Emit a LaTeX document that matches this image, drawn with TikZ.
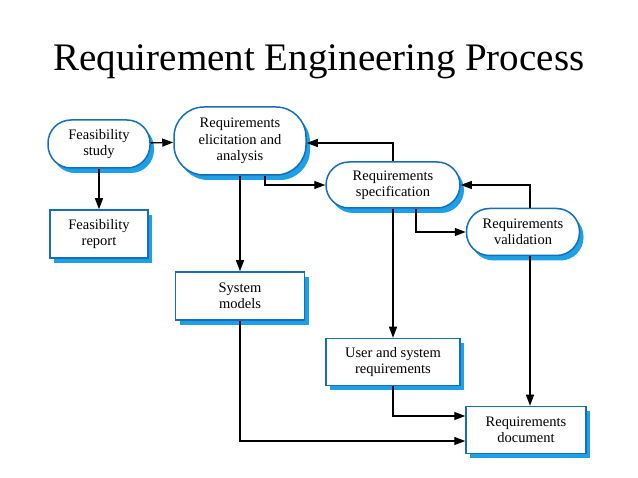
\documentclass[tikz,border=0pt]{standalone}
\usepackage{fontspec}
\setmainfont{Liberation Serif}
\usetikzlibrary{arrows.meta,shadows}
\definecolor{bord}{RGB}{20,110,190}
\definecolor{shad}{RGB}{30,160,230}
\begin{document}
\begin{tikzpicture}[x=1pt,y=-1pt,
  base/.style={draw=bord,line width=1.5pt,fill=white,align=center,font=\fontsize{14.5}{16.5}\selectfont,inner sep=0pt,
    drop shadow={fill=shad,opacity=1,shadow xshift=4pt,shadow yshift=-5pt}},
  proc/.style={base,rounded corners=23pt},
  doc/.style={base},
  ar/.style={-{Triangle[length=11pt,width=8pt]},line width=1.3pt}]
\useasboundingbox (0,0) rectangle (638,478);
\node at (319,62) {\fontsize{39}{44}\selectfont Requirement Engineering Process};
\node[proc,minimum width=102pt,minimum height=48pt] (fs) at (99,144) {Feasibility\\study};
\node[doc,minimum width=98pt,minimum height=48pt] (fr) at (99,234) {Feasibility\\report};
\node[proc,minimum width=132pt,minimum height=68pt,rounded corners=30pt] (el) at (240,141) {Requirements\\elicitation and\\analysis};
\node[proc,minimum width=134pt,minimum height=46pt] (sp) at (393,185) {Requirements\\specification};
\node[proc,minimum width=113pt,minimum height=47pt] (va) at (523,232) {Requirements\\validation};
\node[doc,minimum width=129pt,minimum height=48pt] (sm) at (240,296) {System\\models};
\node[doc,minimum width=134pt,minimum height=47pt] (us) at (393,362) {User and system\\requirements};
\node[doc,minimum width=120pt,minimum height=47pt] (rd) at (526,430) {Requirements\\document};
\draw[ar] (fs) -- (el);
\draw[ar] (fs) -- (fr);
\draw[ar] (el.south) -- (sm.north);
\draw[ar] (el.south -| 265,0) |- (sp.west);
\draw[ar] (sp.north) |- (el.east |- 0,143);
\draw[ar] (sp.south -| 416,0) |- (va.west);
\draw[ar] (va.north -| 530,0) |- (sp.east);
\draw[ar] (sp.south) -- (us.north);
\draw[ar] (va.south -| 530,0) -- (rd.north -| 530,0);
\draw[ar] (us.south) |- (rd.west |- 0,416);
\draw[ar] (sm.south) |- (rd.west |- 0,441);
\end{tikzpicture}
\end{document}
